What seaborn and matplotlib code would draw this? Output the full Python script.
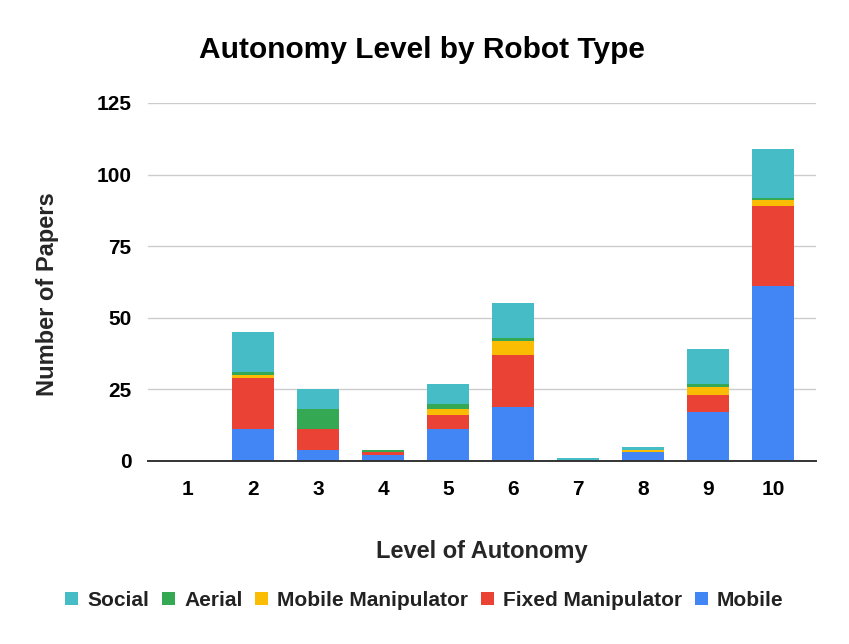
import numpy as np
import pandas as pd
import matplotlib
matplotlib.use("Agg")
import matplotlib.pyplot as plt
import seaborn as sns
from matplotlib.patches import Patch

# Data
levels = ["1", "2", "3", "4", "5", "6", "7", "8", "9", "10"]
mobile = [0, 11, 4, 2, 11, 19, 0, 3, 17, 61]
fixed_manipulator = [0, 18, 7, 1, 5, 18, 0, 0, 6, 28]
mobile_manipulator = [0, 1, 0, 0, 2, 5, 0, 1, 3, 2]
aerial = [0, 1, 7, 1, 2, 1, 0, 0, 1, 1]
social = [0, 14, 7, 0, 7, 12, 1, 1, 12, 17]

series = ["Mobile", "Fixed Manipulator", "Mobile Manipulator", "Aerial", "Social"]
colors = {
    "Mobile": "#4285F4",
    "Fixed Manipulator": "#EA4335",
    "Mobile Manipulator": "#FBBC04",
    "Aerial": "#34A853",
    "Social": "#46BDC6",
}

df = pd.DataFrame({
    "Level": levels,
    "Mobile": mobile,
    "Fixed Manipulator": fixed_manipulator,
    "Mobile Manipulator": mobile_manipulator,
    "Aerial": aerial,
    "Social": social,
})
# cumulative totals for stacking
cum = df[series].cumsum(axis=1)

sns.set_style("white")
plt.rcParams["font.family"] = ["Liberation Sans", "DejaVu Sans"]
plt.rcParams["font.weight"] = "bold"

fig = plt.figure(figsize=(8.49, 6.44), dpi=100)
ax = fig.add_axes([148 / 849, 1 - 461 / 644, (816 - 148) / 849, (461 - 103) / 644])

# draw from the top of the stack down so lower layers cover upper ones
for name in reversed(series):
    sns.barplot(x=df["Level"], y=cum[name], color=colors[name], width=0.646,
                saturation=1, linewidth=0, edgecolor="none", ax=ax, zorder=3)

ax.set_ylim(0, 125)
ax.set_xlim(-0.615, 9.66)
ax.set_yticks([0, 25, 50, 75, 100, 125])
ax.grid(axis="y", color="#cccccc", linewidth=1, zorder=0)
ax.set_axisbelow(True)
for s in ["top", "right", "left"]:
    ax.spines[s].set_visible(False)
ax.spines["bottom"].set_color("#333333")
ax.spines["bottom"].set_linewidth(1.4)
ax.spines["bottom"].set_zorder(5)
ax.tick_params(axis="both", length=0, labelsize=15, colors="black")
ax.tick_params(axis="y", pad=12)
ax.tick_params(axis="x", pad=14)
for lab in ax.get_xticklabels() + ax.get_yticklabels():
    lab.set_fontweight("bold")

ax.set_xlabel("Level of Autonomy", fontsize=17, fontweight="bold")
ax.set_ylabel("Number of Papers", fontsize=17, fontweight="bold")
ax.xaxis.set_label_coords(0.5, -0.221)
ax.yaxis.set_label_coords(-0.133, 0.465)

fig.text(0.497, 0.922, "Autonomy Level by Robot Type", ha="center", va="center",
         fontsize=21.5, fontweight="bold", color="black")

handles = [Patch(facecolor=colors[n], edgecolor="none") for n in reversed(series)]
fig.legend(handles, list(reversed(series)), loc="center", bbox_to_anchor=(0.5, 0.068),
           ncol=5, frameon=False, handlelength=0.6, handleheight=0.6,
           handletextpad=0.45, columnspacing=0.62, labelcolor="#222222",
           prop={"weight": "bold", "size": 15})

fig.savefig("out.png", dpi=100, facecolor="white")
